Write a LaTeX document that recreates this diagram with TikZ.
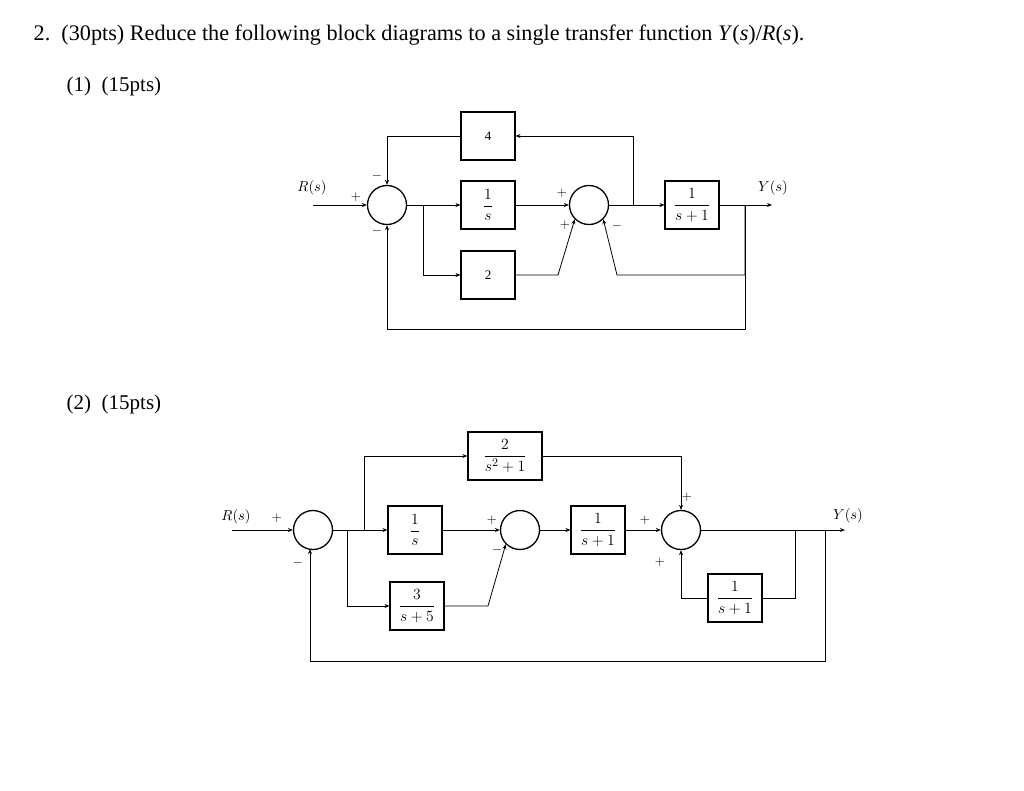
\documentclass[tikz,border=0pt]{standalone}
\usepackage{amsmath}
\usepackage{graphicx}
\usepackage{fontspec}
\setmainfont{Liberation Serif}
\usetikzlibrary{arrows.meta}
\newcommand{\bm}[1]{\scalebox{1.3}{$#1$}}
\newcommand{\lm}[1]{\scalebox{1.45}{$#1$}}
\begin{document}
\begin{tikzpicture}[x=1pt,y=-1pt,
  blk/.style={draw,line width=1.1pt,minimum width=54pt,minimum height=48pt,inner sep=0pt,font=\fontsize{13}{15}\selectfont},
  sum/.style={draw,circle,line width=1.3pt,minimum size=39pt,inner sep=0pt},
  sig/.style={inner sep=0pt},
  lbl/.style={inner sep=0pt},
  ar/.style={-{Stealth[length=5pt,width=4pt]}},
  every path/.style={line width=0.8pt}]
\useasboundingbox (0,0) rectangle (1024,790);
\node[anchor=base west,font=\fontsize{22.2}{26}\selectfont] (title) at (30,40) {2.\ \ (30pts) Reduce the following block diagrams to a single transfer function \textit{Y}(\textit{s})/\textit{R}(\textit{s}).};
\node[anchor=base west,font=\fontsize{21}{24}\selectfont] (p1) at (63,91) {(1)\ \ (15pts)};
\node[anchor=base west,font=\fontsize{21}{24}\selectfont] (p2) at (63,409) {(2)\ \ (15pts)};
% ---------- diagram 1
\node[sum] (a1) at (387,205) {};
\node[sum] (a2) at (589,205) {};
\node[blk] (b4) at (488,136) {4};
\node[blk] (bs) at (488,205) {\bm{\dfrac{1}{s}}};
\node[blk] (b2) at (488,275) {2};
\node[blk] (bp) at (692,205) {\bm{\dfrac{1}{s+1}}};
\coordinate (r1) at (313,205);
\coordinate (y1) at (772,205);
\node[lbl] (R1) at (312,188) {\lm{R(s)}};
\node[lbl] (Y1) at (773,188) {\lm{Y(s)}};
\coordinate (j1) at (423,205);
\coordinate (j2) at (633,205);
\coordinate (j3) at (745,205);
\draw[ar] (r1) -- (a1);
\draw[ar] (a1) -- (bs);
\draw[ar] (bs) -- (a2);
\draw[ar] (a2) -- (bp);
\draw[ar] (bp) -- (y1);
\draw[ar] (j2) |- (b4);
\draw[ar] (b4) -| (a1);
\draw[ar] (j1) |- (b2);
\draw[ar] (b2.east) -- (558,275) -- (a2.south west);
\draw[ar] (j3) |- (617,275) -- (a2.south east);
\draw[ar] (j3) |- (387,329) -- (a1);
\node[sig] at (356,197) {\bm{+}};
\node[sig] at (377,176) {\bm{-}};
\node[sig] at (377,231) {\bm{-}};
\node[sig] at (562,193) {\bm{+}};
\node[sig] at (565,225) {\bm{+}};
\node[sig] at (617,226) {\bm{-}};
% ---------- diagram 2
\node[sum] (c1) at (313,530) {};
\node[sum] (c2) at (520,530) {};
\node[sum] (c3) at (681,530) {};
\node[blk] (d1) at (415,530) {\bm{\dfrac{1}{s}}};
\node[blk] (d3) at (417,606) {\bm{\dfrac{3}{s+5}}};
\node[blk,minimum width=74pt] (d2) at (505,456) {\bm{\dfrac{2}{s^2+1}}};
\node[blk] (d4) at (598,530) {\bm{\dfrac{1}{s+1}}};
\node[blk] (d5) at (735,598) {\bm{\dfrac{1}{s+1}}};
\coordinate (r2) at (232,530);
\coordinate (y2) at (845,530);
\node[lbl] (R2) at (236,517) {\lm{R(s)}};
\node[lbl] (Y2) at (848,516) {\lm{Y(s)}};
\coordinate (k1) at (347,530);
\coordinate (k2) at (364,530);
\coordinate (k3) at (795,530);
\coordinate (k4) at (825,530);
\draw[ar] (r2) -- (c1);
\draw[ar] (c1) -- (d1);
\draw[ar] (d1) -- (c2);
\draw[ar] (c2) -- (d4);
\draw[ar] (d4) -- (c3);
\draw[ar] (c3) -- (y2);
\draw[ar] (k1) |- (d3);
\draw[ar] (d3.east) -- (488,606) -- (c2.south west);
\draw[ar] (k2) |- (d2);
\draw[ar] (d2) -| (c3);
\draw (k3) |- (d5);
\draw[ar] (d5) -| (c3);
\draw[ar] (k4) |- (310,661) -- (310,549);
\node[sig] at (277,518) {\bm{+}};
\node[sig] at (298,563) {\bm{-}};
\node[sig] at (492,520) {\bm{+}};
\node[sig] at (497,550) {\bm{-}};
\node[sig] at (645,520) {\bm{+}};
\node[sig] at (687,497) {\bm{+}};
\node[sig] at (660,562) {\bm{+}};
\end{tikzpicture}
\end{document}
